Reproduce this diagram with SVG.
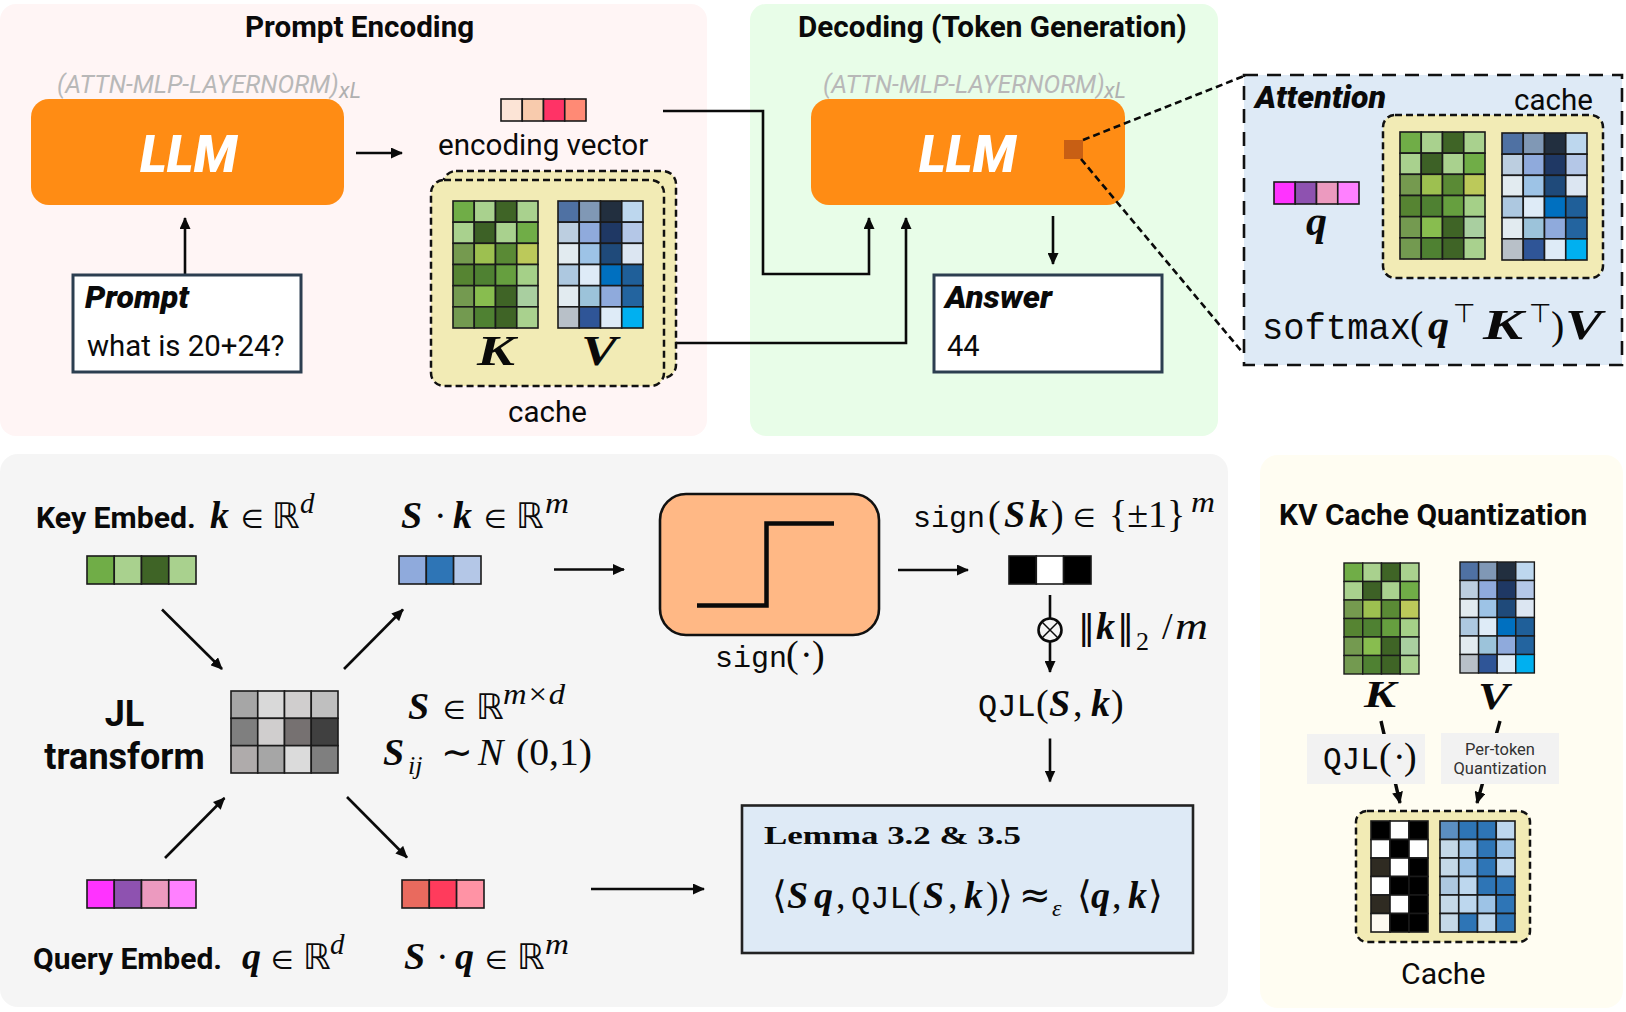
<svg xmlns="http://www.w3.org/2000/svg" xmlns:xlink="http://www.w3.org/1999/xlink" width="1626" height="1012" viewBox="0 0 1626 1012">
<style>
text{fill:#0a0a0a}
.rb{font-family:Roboto,"Liberation Sans",sans-serif;font-weight:700}
.rbi{font-family:Roboto,"Liberation Sans",sans-serif;font-weight:900;font-style:italic}
.r{font-family:Roboto,"Liberation Sans",sans-serif}
.attn{font-family:Roboto,"Liberation Sans",sans-serif;font-style:italic;font-size:25px;fill:#b8b8b8}
.attn tspan.s{font-size:22px;fill:#b0b0b0}
.llm{font-family:Roboto,"Liberation Sans",sans-serif;font-weight:900;font-style:italic;font-size:51px;fill:#fff}
.m{font-family:"Liberation Serif",serif;font-size:38px}
.bi{font-family:"Liberation Serif",serif;font-weight:700;font-style:italic}
.it{font-family:"Liberation Serif",serif;font-style:italic}
.sym{font-family:"DejaVu Sans",sans-serif}
.el{font-family:"DejaVu Sans",sans-serif;font-size:26px}
.bb{font-family:"DejaVu Sans",sans-serif;font-size:35px}
.sup{font-family:"Liberation Serif",serif;font-style:italic;font-size:29px}
.tt{font-family:"Liberation Mono",monospace}
.panel{stroke:none}
.box{fill:#fff;stroke:#2c3e50;stroke-width:3}
.orange{fill:#ff8c14}
.cache{fill:#f2ebb5;stroke:#111;stroke-width:2.5;stroke-dasharray:7 4}
.cell{stroke:#1a1a1a;stroke-width:1.6}
.arrow{fill:none;stroke:#0a0a0a;stroke-width:2.6;marker-end:url(#ah)}
.arrow.thick{stroke-width:3.4}
.zoomline{fill:none;stroke:#0a0a0a;stroke-width:2.6;stroke-dasharray:7 4}
</style>
<defs>
<marker id="ah" markerUnits="userSpaceOnUse" markerWidth="12" markerHeight="11" refX="11" refY="5.5" orient="auto"><path d="M0 0L12 5.5L0 11z" fill="#0a0a0a"/></marker>
<g id="gridK" class="cell">
<rect x="0" y="0" width="21.25" height="21.17" fill="#70ad47"/><rect x="21.25" y="0" width="21.25" height="21.17" fill="#a9d18e"/><rect x="42.5" y="0" width="21.25" height="21.17" fill="#3f6426"/><rect x="63.75" y="0" width="21.25" height="21.17" fill="#a9d18e"/>
<rect x="0" y="21.17" width="21.25" height="21.17" fill="#a9d18e"/><rect x="21.25" y="21.17" width="21.25" height="21.17" fill="#3d6126"/><rect x="42.5" y="21.17" width="21.25" height="21.17" fill="#a9d18e"/><rect x="63.75" y="21.17" width="21.25" height="21.17" fill="#70ad47"/>
<rect x="0" y="42.33" width="21.25" height="21.17" fill="#759a4f"/><rect x="21.25" y="42.33" width="21.25" height="21.17" fill="#9dc050"/><rect x="42.5" y="42.33" width="21.25" height="21.17" fill="#5a8a35"/><rect x="63.75" y="42.33" width="21.25" height="21.17" fill="#bcc95a"/>
<rect x="0" y="63.5" width="21.25" height="21.17" fill="#568432"/><rect x="21.25" y="63.5" width="21.25" height="21.17" fill="#4f8132"/><rect x="42.5" y="63.5" width="21.25" height="21.17" fill="#669f3f"/><rect x="63.75" y="63.5" width="21.25" height="21.17" fill="#a5d088"/>
<rect x="0" y="84.67" width="21.25" height="21.17" fill="#749a50"/><rect x="21.25" y="84.67" width="21.25" height="21.17" fill="#88bd4f"/><rect x="42.5" y="84.67" width="21.25" height="21.17" fill="#3f6426"/><rect x="63.75" y="84.67" width="21.25" height="21.17" fill="#a9cfa0"/>
<rect x="0" y="105.83" width="21.25" height="21.17" fill="#739a50"/><rect x="21.25" y="105.83" width="21.25" height="21.17" fill="#4f8132"/><rect x="42.5" y="105.83" width="21.25" height="21.17" fill="#3f6426"/><rect x="63.75" y="105.83" width="21.25" height="21.17" fill="#a9d18e"/>
</g>
<g id="gridV" class="cell">
<rect x="0" y="0" width="21.25" height="21.17" fill="#4f71a3"/><rect x="21.25" y="0" width="21.25" height="21.17" fill="#8098b5"/><rect x="42.5" y="0" width="21.25" height="21.17" fill="#222f3f"/><rect x="63.75" y="0" width="21.25" height="21.17" fill="#bdd7ee"/>
<rect x="0" y="21.17" width="21.25" height="21.17" fill="#bccee0"/><rect x="21.25" y="21.17" width="21.25" height="21.17" fill="#8faadc"/><rect x="42.5" y="21.17" width="21.25" height="21.17" fill="#1f3864"/><rect x="63.75" y="21.17" width="21.25" height="21.17" fill="#b4c7e7"/>
<rect x="0" y="42.33" width="21.25" height="21.17" fill="#e2ebf0"/><rect x="21.25" y="42.33" width="21.25" height="21.17" fill="#9dc3e6"/><rect x="42.5" y="42.33" width="21.25" height="21.17" fill="#1f4a7a"/><rect x="63.75" y="42.33" width="21.25" height="21.17" fill="#dce6f2"/>
<rect x="0" y="63.5" width="21.25" height="21.17" fill="#adc8e0"/><rect x="21.25" y="63.5" width="21.25" height="21.17" fill="#deebf7"/><rect x="42.5" y="63.5" width="21.25" height="21.17" fill="#0070c0"/><rect x="63.75" y="63.5" width="21.25" height="21.17" fill="#1f5f99"/>
<rect x="0" y="84.67" width="21.25" height="21.17" fill="#e2ebf0"/><rect x="21.25" y="84.67" width="21.25" height="21.17" fill="#9cc3da"/><rect x="42.5" y="84.67" width="21.25" height="21.17" fill="#8faadc"/><rect x="63.75" y="84.67" width="21.25" height="21.17" fill="#23649f"/>
<rect x="0" y="105.83" width="21.25" height="21.17" fill="#b8c0c8"/><rect x="21.25" y="105.83" width="21.25" height="21.17" fill="#2f5597"/><rect x="42.5" y="105.83" width="21.25" height="21.17" fill="#deebf7"/><rect x="63.75" y="105.83" width="21.25" height="21.17" fill="#00b0f0"/>
</g>
<g id="stripQ" class="cell">
<rect x="0" y="0" width="21.25" height="22" fill="#ff33ff"/><rect x="21.25" y="0" width="21.25" height="22" fill="#8e52b0"/><rect x="42.5" y="0" width="21.25" height="22" fill="#ec9abf"/><rect x="63.75" y="0" width="21.25" height="22" fill="#ff80ff"/>
</g>
</defs>

<g id="panels">
<rect class="panel" x="0" y="4" width="707" height="432" rx="16" fill="#fff5f5"/>
<rect class="panel" x="750" y="4" width="468" height="432" rx="16" fill="#e8fde8"/>
<rect class="panel" x="0" y="454" width="1228" height="553" rx="18" fill="#f5f5f5"/>
<rect class="panel" x="1260" y="455" width="363" height="553" rx="18" fill="#fffdf2"/>
</g>

<g id="connectors">
<path class="arrow" d="M356 153H402"/>
<path class="arrow" d="M185 275V218"/>
<path class="arrow" d="M663 111H763V274H869V218"/>
<path class="arrow" d="M676 343H906V218"/>
<path class="arrow" d="M1053 216V264"/>
<path class="arrow" d="M162 609.5L222 669"/>
<path class="arrow" d="M344 669L403 609.5"/>
<path class="arrow" d="M165 858L224.5 798"/>
<path class="arrow" d="M347 797L407 857.5"/>
<path class="arrow" d="M554 569.5H624"/>
<path class="arrow" d="M591 889H704"/>
<path class="arrow" d="M898 570H968"/>
<path class="arrow" d="M1050 595V672"/>
<path class="arrow" d="M1050 738.5V781.5"/>
<path class="arrow thick" d="M1381 721L1400 803"/>
<path class="arrow thick" d="M1500 721L1477 803"/>
</g>

<g id="title-prompt"><text class="rb" x="245" y="37" font-size="29.6">Prompt Encoding</text></g>
<g id="title-decoding"><text class="rb" x="798" y="37" font-size="29.7">Decoding (Token Generation)</text></g>

<g id="llm-encoder">
<text class="attn" x="57" y="93">(ATTN-MLP-LAYERNORM)<tspan class="s" x="339" y="98">xL</tspan></text>
<rect class="orange" x="31" y="99" width="313" height="106" rx="18"/>
<text class="llm" x="140" y="172">LLM</text>
</g>

<g id="prompt">
<rect class="box" x="73" y="275" width="228" height="97"/>
<text class="rbi" x="85" y="308" font-size="31" textLength="104" lengthAdjust="spacingAndGlyphs">Prompt</text>
<text class="r" x="87" y="356" font-size="29.4">what is 20+24?</text>
</g>

<g id="encoding-vector">
<g class="cell"><rect x="501" y="99" width="21.25" height="22" fill="#fce4d6"/><rect x="522.25" y="99" width="21.25" height="22" fill="#f8cbad"/><rect x="543.5" y="99" width="21.25" height="22" fill="#ff3366"/><rect x="564.75" y="99" width="21.25" height="22" fill="#ff8a75"/></g>
<text class="r" x="438" y="155" font-size="29.6">encoding vector</text>
</g>

<g id="cache-encoder">
<rect class="cache" x="443" y="171" width="233" height="207" rx="13"/>
<rect class="cache" x="431" y="180" width="233" height="206" rx="13"/>
<use xlink:href="#gridK" href="#gridK" transform="translate(453 201)"/>
<use xlink:href="#gridV" href="#gridV" transform="translate(558 201)"/>
<text class="bi" x="477" y="365" font-size="42" textLength="38" lengthAdjust="spacingAndGlyphs">K</text>
<text class="bi" x="581" y="365" font-size="42" textLength="36" lengthAdjust="spacingAndGlyphs">V</text>
<text class="r" x="508" y="422" font-size="29.5">cache</text>
</g>

<g id="llm-decoder">
<text class="attn" x="823" y="93">(ATTN-MLP-LAYERNORM)<tspan class="s" x="1104" y="98">xL</tspan></text>
<rect class="orange" x="811" y="99" width="314" height="106" rx="18"/>
<text class="llm" x="919" y="172">LLM</text>
<rect x="1064" y="140" width="19" height="19" fill="#c85f14"/>
</g>

<g id="answer">
<rect class="box" x="934" y="275" width="228" height="97"/>
<text class="rbi" x="945" y="308" font-size="31" textLength="107" lengthAdjust="spacingAndGlyphs">Answer</text>
<text class="r" x="947" y="356" font-size="29">44</text>
</g>

<g id="attention">
<rect x="1244" y="75" width="378" height="290" fill="#deeaf6" stroke="#111" stroke-width="2.6" stroke-dasharray="14 9"/>
<path class="zoomline" d="M1083 140L1244 76"/>
<path class="zoomline" d="M1081 159L1243 353"/>
<text class="rbi" x="1255" y="108" font-size="31" textLength="131" lengthAdjust="spacingAndGlyphs">Attention</text>
<text class="r" x="1514" y="110" font-size="29.5">cache</text>
<rect class="cache" x="1383" y="115" width="220" height="163" rx="12"/>
<use xlink:href="#gridK" href="#gridK" transform="translate(1400 132)"/>
<use xlink:href="#gridV" href="#gridV" transform="translate(1502 133)"/>
<use xlink:href="#stripQ" href="#stripQ" transform="translate(1274 182)"/>
<text class="bi" x="1306" y="235" font-size="42">q</text>
<text y="339" font-size="36"><tspan class="tt" x="1262" textLength="149" lengthAdjust="spacingAndGlyphs">softmax</tspan><tspan class="m" x="1410" style="font-size:40px">(</tspan><tspan class="bi" x="1428" style="font-size:42px">q</tspan><tspan class="sym" x="1453" y="322" style="font-size:26px">⊤</tspan><tspan class="bi" x="1483" y="339" style="font-size:42px" textLength="40" lengthAdjust="spacingAndGlyphs">K</tspan><tspan class="sym" x="1529" y="322" style="font-size:26px">⊤</tspan><tspan class="m" x="1551" y="339" style="font-size:40px">)</tspan><tspan class="bi" x="1565" style="font-size:42px" textLength="37" lengthAdjust="spacingAndGlyphs">V</tspan></text>
</g>

<g id="key-embed">
<text class="rb" x="36" y="528" font-size="30.2">Key Embed.</text>
<text y="528" class="m"><tspan class="bi" x="210">k</tspan><tspan class="el" x="241">∈</tspan><tspan class="bb" x="272">ℝ</tspan><tspan class="sup" x="300" y="513">d</tspan></text>
<g class="cell"><rect x="87" y="556" width="27.25" height="28" fill="#70ad47"/><rect x="114.25" y="556" width="27.25" height="28" fill="#a9d18e"/><rect x="141.5" y="556" width="27.25" height="28" fill="#3f6426"/><rect x="168.75" y="556" width="27.25" height="28" fill="#a9d18e"/></g>
</g>

<g id="s-k">
<text y="528" class="m"><tspan class="bi" x="401">S</tspan><tspan x="434">·</tspan><tspan class="bi" x="453">k</tspan><tspan class="el" x="484">∈</tspan><tspan class="bb" x="516">ℝ</tspan><tspan class="sup" x="545" y="513" textLength="24" lengthAdjust="spacingAndGlyphs">m</tspan></text>
<g class="cell"><rect x="399" y="556" width="27.3" height="28" fill="#8faadc"/><rect x="426.3" y="556" width="27.3" height="28" fill="#2e75b6"/><rect x="453.6" y="556" width="27.4" height="28" fill="#b4c7e7"/></g>
</g>

<g id="sign-box">
<rect x="660" y="494" width="219" height="141" rx="26" fill="#ffb885" stroke="#111" stroke-width="2.6"/>
<path d="M697 605.5H766.5V523.5H834" fill="none" stroke="#0a0a0a" stroke-width="4.5"/>
<text y="667" class="m"><tspan class="tt" x="715" style="font-size:30px">sign</tspan><tspan x="786">(</tspan><tspan x="800">·</tspan><tspan x="812">)</tspan></text>
</g>

<g id="sign-k">
<text y="527" class="m"><tspan class="tt" x="913" style="font-size:30px">sign</tspan><tspan x="988">(</tspan><tspan class="bi" x="1004">S</tspan><tspan class="bi" x="1029">k</tspan><tspan x="1051">)</tspan><tspan class="el" x="1073">∈</tspan><tspan x="1109">{±1}</tspan><tspan class="sup" x="1191" y="512" textLength="24" lengthAdjust="spacingAndGlyphs">m</tspan></text>
<g class="cell"><rect x="1009" y="556" width="27.3" height="28" fill="#000"/><rect x="1036.3" y="556" width="27.3" height="28" fill="#fff"/><rect x="1063.6" y="556" width="27.4" height="28" fill="#000"/></g>
</g>

<g id="norm">
<circle cx="1050" cy="630" r="11.5" fill="#f5f5f5" stroke="#0a0a0a" stroke-width="2.6"/>
<path d="M1042 622L1058 638M1058 622L1042 638" stroke="#0a0a0a" stroke-width="1.5" fill="none"/>
<text y="639" class="m"><tspan class="sym" x="1078" style="font-size:34px">‖</tspan><tspan class="bi" x="1096">k</tspan><tspan class="sym" x="1117" style="font-size:34px">‖</tspan><tspan x="1136" y="650" style="font-size:26px">2</tspan><tspan x="1162" y="639">/</tspan><tspan class="it" x="1175" textLength="33" lengthAdjust="spacingAndGlyphs">m</tspan></text>
</g>

<g id="qjl">
<text y="716" class="m"><tspan class="tt" x="978" style="font-size:32px">QJL</tspan><tspan x="1036">(</tspan><tspan class="bi" x="1049">S</tspan><tspan x="1073">,</tspan><tspan class="bi" x="1091">k</tspan><tspan x="1111">)</tspan></text>
</g>

<g id="lemma">
<rect x="742" y="805.5" width="451" height="147.5" fill="#deeaf6" stroke="#222" stroke-width="2.6"/>
<text x="764" y="844" font-family="Liberation Serif, serif" font-weight="700" font-size="26" textLength="257" lengthAdjust="spacingAndGlyphs">Lemma 3.2 &amp; 3.5</text>
<text y="908" class="m"><tspan class="sym" x="772">⟨</tspan><tspan class="bi" x="787">S</tspan><tspan class="bi" x="814">q</tspan><tspan x="836">,</tspan><tspan class="tt" x="851" style="font-size:32px">QJL</tspan><tspan x="908">(</tspan><tspan class="bi" x="923">S</tspan><tspan x="948">,</tspan><tspan class="bi" x="964">k</tspan><tspan x="986">)</tspan><tspan class="sym" x="998">⟩</tspan><tspan class="sym" x="1019">≈</tspan><tspan class="it" x="1052" y="916" style="font-size:24px">ε</tspan><tspan class="sym" x="1077" y="908">⟨</tspan><tspan class="bi" x="1091">q</tspan><tspan x="1112">,</tspan><tspan class="bi" x="1128">k</tspan><tspan class="sym" x="1148">⟩</tspan></text>
</g>

<g id="jl-transform">
<text class="rb" x="124.5" y="726" font-size="36" text-anchor="middle">JL</text>
<text class="rb" x="124.5" y="769" font-size="36" text-anchor="middle">transform</text>
<g class="cell">
<rect x="231" y="691" width="26.75" height="27.33" fill="#a6a6a6"/><rect x="257.75" y="691" width="26.75" height="27.33" fill="#d9d9d9"/><rect x="284.5" y="691" width="26.75" height="27.33" fill="#d0cece"/><rect x="311.25" y="691" width="26.75" height="27.33" fill="#bfbfbf"/>
<rect x="231" y="718.33" width="26.75" height="27.33" fill="#7f7f7f"/><rect x="257.75" y="718.33" width="26.75" height="27.33" fill="#d0cece"/><rect x="284.5" y="718.33" width="26.75" height="27.33" fill="#767171"/><rect x="311.25" y="718.33" width="26.75" height="27.33" fill="#404040"/>
<rect x="231" y="745.67" width="26.75" height="27.33" fill="#afabab"/><rect x="257.75" y="745.67" width="26.75" height="27.33" fill="#a6a6a6"/><rect x="284.5" y="745.67" width="26.75" height="27.33" fill="#dbdbdb"/><rect x="311.25" y="745.67" width="26.75" height="27.33" fill="#7f7f7f"/>
</g>
<text y="719" class="m"><tspan class="bi" x="408">S</tspan><tspan class="el" x="443">∈</tspan><tspan class="bb" x="476">ℝ</tspan><tspan class="sup" x="503" y="704" textLength="62" lengthAdjust="spacingAndGlyphs">m×d</tspan></text>
<text y="765" class="m"><tspan class="bi" x="383">S</tspan><tspan class="it" x="408" y="774" style="font-size:26px">ij</tspan><tspan class="sym" x="441" y="765">∼</tspan><tspan class="it" x="478">N</tspan><tspan x="516" textLength="76" lengthAdjust="spacingAndGlyphs">(0,1)</tspan></text>
</g>

<g id="query-embed">
<text class="rb" x="33" y="969" font-size="30">Query Embed.</text>
<text y="969" class="m"><tspan class="bi" x="242">q</tspan><tspan class="el" x="271">∈</tspan><tspan class="bb" x="303">ℝ</tspan><tspan class="sup" x="330" y="954">d</tspan></text>
<g class="cell"><rect x="87" y="880" width="27.25" height="28" fill="#ff33ff"/><rect x="114.25" y="880" width="27.25" height="28" fill="#8e52b0"/><rect x="141.5" y="880" width="27.25" height="28" fill="#ec9abf"/><rect x="168.75" y="880" width="27.25" height="28" fill="#ff80ff"/></g>
</g>

<g id="s-q">
<text y="969" class="m"><tspan class="bi" x="404">S</tspan><tspan x="436">·</tspan><tspan class="bi" x="455">q</tspan><tspan class="el" x="485">∈</tspan><tspan class="bb" x="517">ℝ</tspan><tspan class="sup" x="545" y="954" textLength="24" lengthAdjust="spacingAndGlyphs">m</tspan></text>
<g class="cell"><rect x="402" y="880" width="27.3" height="28" fill="#e96a5e"/><rect x="429.3" y="880" width="27.3" height="28" fill="#ff3b5c"/><rect x="456.6" y="880" width="27.4" height="28" fill="#ff93a5"/></g>
</g>

<g id="title-kv"><text class="rb" x="1279" y="525" font-size="29.9">KV Cache Quantization</text></g>

<g id="kv-source">
<use xlink:href="#gridK" href="#gridK" transform="translate(1344 563) scale(.882 .874)"/>
<use xlink:href="#gridV" href="#gridV" transform="translate(1460 562) scale(.875 .874)"/>
<text class="bi" x="1364" y="707" font-size="37" textLength="32" lengthAdjust="spacingAndGlyphs">K</text>
<text class="bi" x="1478" y="709" font-size="37" textLength="31" lengthAdjust="spacingAndGlyphs">V</text>
</g>

<g id="qjl-op">
<rect x="1307" y="734" width="118" height="50" fill="#f2f2f2"/>
<text y="769" class="m"><tspan class="tt" x="1323" style="font-size:31px">QJL</tspan><tspan x="1379">(</tspan><tspan x="1393">·</tspan><tspan x="1404">)</tspan></text>
</g>

<g id="per-token-op">
<rect x="1441" y="733" width="118" height="51" fill="#f2f2f2"/>
<text class="r" x="1500" y="755" font-size="16.5" text-anchor="middle" style="fill:#333">Per-token</text>
<text class="r" x="1500" y="774" font-size="16.5" text-anchor="middle" style="fill:#333">Quantization</text>
</g>

<g id="cache-quantized">
<rect class="cache" x="1356" y="811" width="174" height="131" rx="11"/>
<g class="cell">
<rect x="1371" y="821" width="19" height="18.5" fill="#000"/><rect x="1390" y="821" width="19" height="18.5" fill="#fff"/><rect x="1409" y="821" width="19" height="18.5" fill="#000"/>
<rect x="1371" y="839.5" width="19" height="18.5" fill="#fff"/><rect x="1390" y="839.5" width="19" height="18.5" fill="#000"/><rect x="1409" y="839.5" width="19" height="18.5" fill="#fff"/>
<rect x="1371" y="858" width="19" height="18.5" fill="#2f2b22"/><rect x="1390" y="858" width="19" height="18.5" fill="#fff"/><rect x="1409" y="858" width="19" height="18.5" fill="#000"/>
<rect x="1371" y="876.5" width="19" height="18.5" fill="#fff"/><rect x="1390" y="876.5" width="19" height="18.5" fill="#000"/><rect x="1409" y="876.5" width="19" height="18.5" fill="#000"/>
<rect x="1371" y="895" width="19" height="18.5" fill="#2f2b22"/><rect x="1390" y="895" width="19" height="18.5" fill="#fff"/><rect x="1409" y="895" width="19" height="18.5" fill="#000"/>
<rect x="1371" y="913.5" width="19" height="18.5" fill="#fdf9f0"/><rect x="1390" y="913.5" width="19" height="18.5" fill="#000"/><rect x="1409" y="913.5" width="19" height="18.5" fill="#000"/>
<rect x="1440" y="821" width="18.75" height="18.5" fill="#5b8ec1"/><rect x="1458.75" y="821" width="18.75" height="18.5" fill="#2e75b6"/><rect x="1477.5" y="821" width="18.75" height="18.5" fill="#2e75b6"/><rect x="1496.25" y="821" width="18.75" height="18.5" fill="#bdd7ee"/>
<rect x="1440" y="839.5" width="18.75" height="18.5" fill="#c5d9e8"/><rect x="1458.75" y="839.5" width="18.75" height="18.5" fill="#9dc3e6"/><rect x="1477.5" y="839.5" width="18.75" height="18.5" fill="#2e75b6"/><rect x="1496.25" y="839.5" width="18.75" height="18.5" fill="#9dc3e6"/>
<rect x="1440" y="858" width="18.75" height="18.5" fill="#c5d9e8"/><rect x="1458.75" y="858" width="18.75" height="18.5" fill="#9dc3e6"/><rect x="1477.5" y="858" width="18.75" height="18.5" fill="#2e75b6"/><rect x="1496.25" y="858" width="18.75" height="18.5" fill="#bdd7ee"/>
<rect x="1440" y="876.5" width="18.75" height="18.5" fill="#adc8e0"/><rect x="1458.75" y="876.5" width="18.75" height="18.5" fill="#bdd7ee"/><rect x="1477.5" y="876.5" width="18.75" height="18.5" fill="#2e75b6"/><rect x="1496.25" y="876.5" width="18.75" height="18.5" fill="#2e75b6"/>
<rect x="1440" y="895" width="18.75" height="18.5" fill="#c5d9e8"/><rect x="1458.75" y="895" width="18.75" height="18.5" fill="#bdd7ee"/><rect x="1477.5" y="895" width="18.75" height="18.5" fill="#9dc3e6"/><rect x="1496.25" y="895" width="18.75" height="18.5" fill="#2e75b6"/>
<rect x="1440" y="913.5" width="18.75" height="18.5" fill="#c5d9e8"/><rect x="1458.75" y="913.5" width="18.75" height="18.5" fill="#2e75b6"/><rect x="1477.5" y="913.5" width="18.75" height="18.5" fill="#bdd7ee"/><rect x="1496.25" y="913.5" width="18.75" height="18.5" fill="#2e75b6"/>
</g>
<text class="r" x="1401" y="984" font-size="30.2">Cache</text>
</g>
</svg>
